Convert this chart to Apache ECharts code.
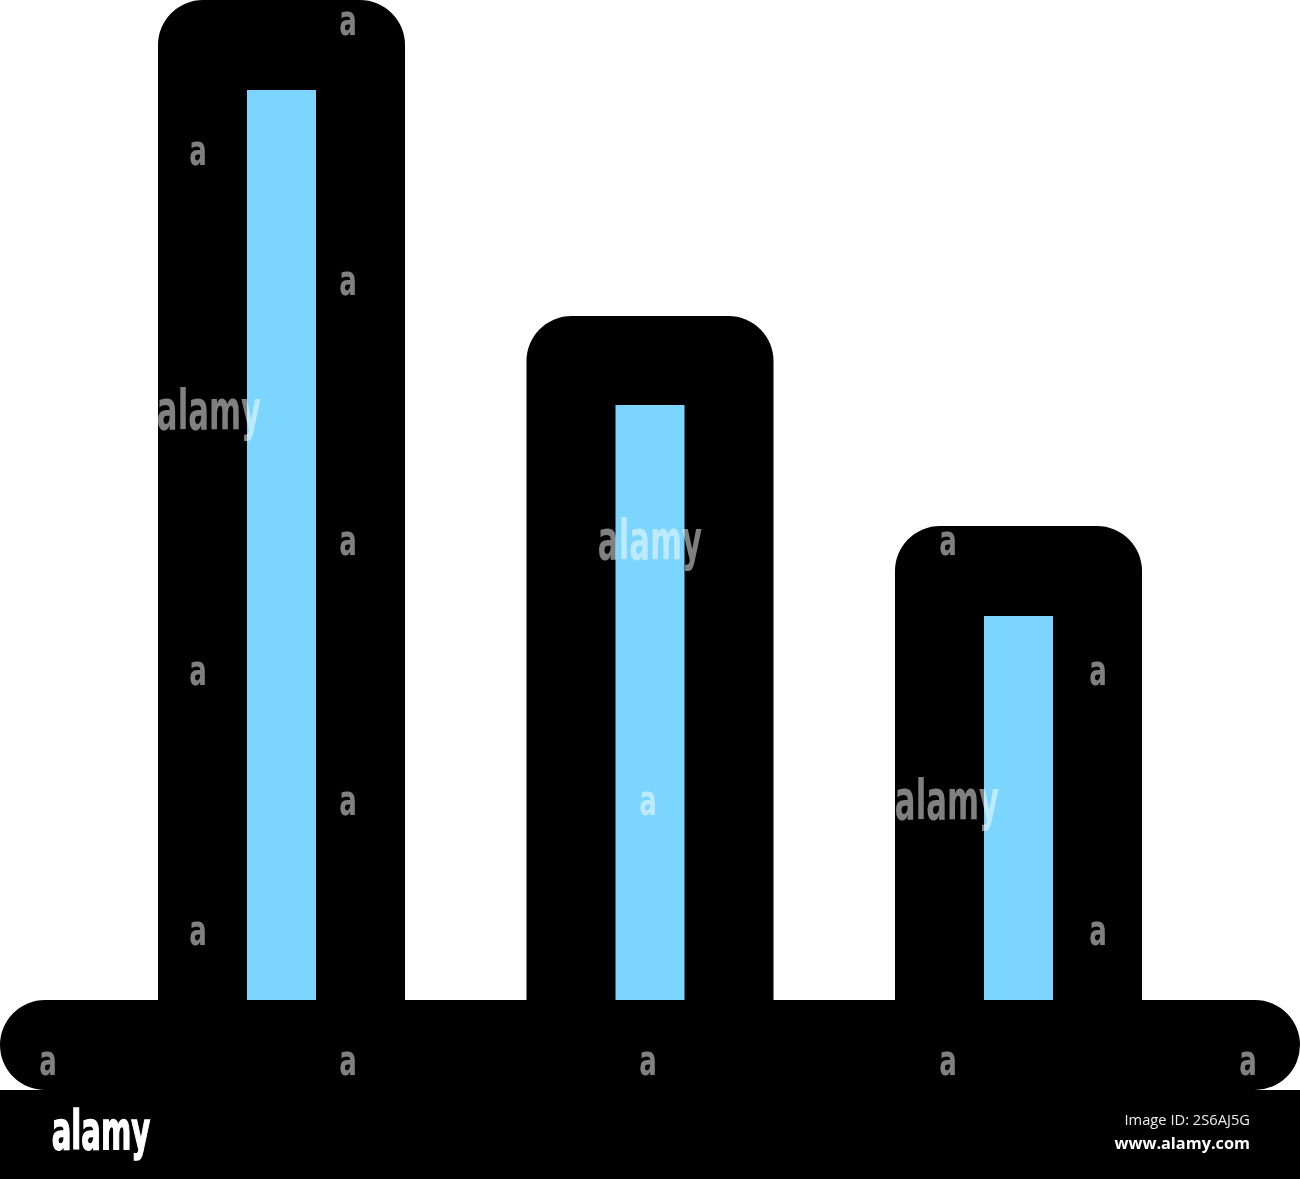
<!DOCTYPE html>
<html>
<head>
<meta charset="utf-8">
<title>Bar chart</title>
<script src="https://cdn.jsdelivr.net/npm/echarts@6/dist/echarts.min.js"></script>
<style>
  html, body { margin: 0; padding: 0; background: #fff; }
  #wrap { width: 1300px; height: 1179px; }
</style>
</head>
<body>
<div id="wrap"></div>
<script>
var categories = ['A', 'B', 'C'];
var outerValues = [1000, 684, 474];
var innerValues = [910, 595, 384];

// watermark spots, [centre x, centre y]
var smallMarks = [[348, 24], [198, 154], [348, 284], [348, 544], [198, 674], [348, 804], [198, 934],
  [948, 544], [1098, 674], [648, 804], [1098, 934],
  [48, 1064], [348, 1064], [648, 1064], [948, 1064], [1248, 1064]];
var bigMarks = [[209, 414], [650, 544], [947, 804]];

function mark(text, pos, size, sx, color, weight) {
  return {
    type: 'text',
    x: pos[0],
    y: pos[1],
    scaleX: sx,
    z: 20,
    silent: true,
    style: {
      text: text,
      fill: color,
      stroke: weight ? color : null,
      lineWidth: weight || 0,
      font: 'bold ' + size + 'px "DejaVu Sans"',
      align: 'center',
      verticalAlign: 'middle'
    }
  };
}

var graphics = [
  // base line and the stock-photo footer
  { type: 'rect', z: 10, shape: { x: 0, y: 1000, width: 1300, height: 90, r: 45 }, style: { fill: '#000' } },
  { type: 'rect', z: 10, shape: { x: 0, y: 1090, width: 1300, height: 89 }, style: { fill: '#000' } },
  mark('alamy', [101, 1135], 53, 0.55, '#fff', 1.5),
  {
    type: 'text', x: 1250, y: 1121, z: 20,
    style: { text: 'Image ID: 2S6AJ5G', fill: '#eee', font: '14.7px "Open Sans"', align: 'right', verticalAlign: 'middle' }
  },
  {
    type: 'text', x: 1250, y: 1144, z: 20,
    style: { text: 'www.alamy.com', fill: '#fff', font: 'bold 16.3px "Open Sans"', align: 'right', verticalAlign: 'middle' }
  }
];
smallMarks.forEach(function (p) {
  graphics.push(mark('a', p, 42, 0.62, 'rgba(255,255,255,0.5)'));
});
bigMarks.forEach(function (p) {
  graphics.push(mark('alamy', p, 56, 0.55, 'rgba(255,255,255,0.5)'));
});

var option = {
  animation: false,
  backgroundColor: '#fff',
  grid: { left: 97.25, top: 0, width: 1105.5, height: 1000 },
  // two hidden category axes so both bar widths stay centred on the same slot
  xAxis: [
    { type: 'category', data: categories, show: false },
    { type: 'category', data: categories, show: false }
  ],
  yAxis: { type: 'value', min: 0, max: 1000, show: false },
  series: [
    {
      name: 'outer',
      type: 'bar',
      xAxisIndex: 0,
      data: outerValues,
      barWidth: 247,
      itemStyle: { color: '#000', borderRadius: [45, 45, 0, 0] }
    },
    {
      name: 'inner',
      type: 'bar',
      xAxisIndex: 1,
      data: innerValues,
      barWidth: 69,
      z: 3,
      itemStyle: { color: '#7bd5ff' }
    }
  ],
  graphic: graphics
};

var myChart = echarts.init(document.getElementById('wrap'));
myChart.setOption(option);
</script>
</body>
</html>
